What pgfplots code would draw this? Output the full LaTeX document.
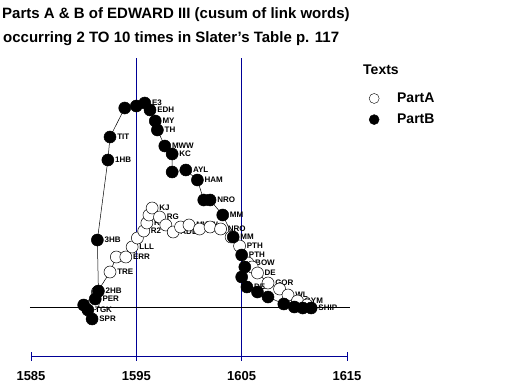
\documentclass[border=0pt]{standalone}
\usepackage{pgfplots}
\pgfplotsset{compat=1.18}
\usepackage{fontspec}
\setmainfont{Liberation Sans}
\definecolor{navyc}{RGB}{0,0,150}
\begin{document}
\begin{tikzpicture}[x=1pt,y=1pt]
\path[use as bounding box] (0,0) rectangle (512,384);
\begin{axis}[
  at={(31pt,28pt)}, anchor=south west,
  scale only axis, width=316pt, height=298pt,
  xmin=1585, xmax=1615, ymin=-49, ymax=249,
  clip=false,
  axis y line=none,
  axis x line*=bottom,
  x axis line style={draw=navyc, line width=0.8pt, -},
  xtick={1585,1595,1605,1615},
  xtick align=center,
  major tick length=9pt,
  tick style={draw=navyc, line width=0.8pt},
  /pgf/number format/assume math mode=true,
  /pgf/number format/1000 sep={},
  xticklabel style={font=\bfseries\fontsize{13}{15}\selectfont, yshift=-7pt},
  point meta=explicit symbolic,
  nodes near coords,
  every node near coord/.append style={anchor=west, xshift=7pt, inner sep=0pt,
     font=\bfseries\fontsize{8}{9}\selectfont},
  legend style={at={(rel axis cs:1.06,0.897)}, anchor=north west, draw=none, fill=none,
     font=\bfseries\fontsize{14}{16}\selectfont, row sep=6pt,
     /tikz/every odd column/.append style={column sep=16pt}},
  legend cell align=left,
]
\draw[navyc, line width=0.8pt] (axis cs:1595,-49) -- (axis cs:1595,249);
\draw[navyc, line width=0.8pt] (axis cs:1605,-49) -- (axis cs:1605,249);
\draw[black, line width=0.6pt] (axis cs:1584.9,0) -- (axis cs:1615.3,0);
% Part A (open)
\addplot[forget plot, black, line width=0.5pt, mark=*, mark size=6pt,
  mark options={draw=black, fill=white, line width=0.5pt}]
  table[x=x, y=y, meta=lab] {
x y lab
1590.9 3 {}
1591.3 15 {}
1592.5 35 TRE
1593.1 50 {}
1594.0 50 ERR
1594.6 60 LLL
1595.1 69 {}
1595.7 76 R2
1596.0 84 RC
1596.2 92 {}
1596.5 99 KJ
1597.2 90 RG
1597.8 82 {}
1598.5 75 ADD
1599.2 80 {}
1600.0 82 MWW
1601.0 78 {}
1602.0 80 {}
1603.0 78 NRO
1604.0 70 {}
1604.8 61 PTH
1605.6 44 BOW
1606.0 40 {}
1606.5 34 DE
1607.5 24 GOR
1608.6 18 {}
1609.4 12 WL
1610.3 6 GYM
1611.2 2 {}
};
% Part B (filled)
\addplot[forget plot, black, line width=0.5pt, mark=*, mark size=6pt,
  mark options={draw=black, fill=black}]
  table[x=x, y=y, meta=lab] {
x y lab
1590.8 -12 SPR
1590.4 -3 TGK
1590.0 2 {}
1591.1 8 PER
1591.4 16 2HB
1591.3 67 3HB
1592.3 147 1HB
1592.5 170 TIT
1593.9 199 {}
1595.0 201 {}
1595.8 204 E3
1596.3 197 EDH
1596.8 186 MY
1597.0 177 TH
1597.7 161 MWW
1598.4 153 KC
1598.4 135 {}
1599.7 137 AYL
1600.8 127 HAM
1601.4 107 {}
1602.0 107 NRO
1603.2 92 MM
1604.2 70 MM
1605.0 52 PTH
1605.3 40 {}
1605.0 30 {}
1605.5 20 DE
1606.5 15 {}
1607.5 10 {}
1609.0 3 {}
1610.0 0 {}
1610.8 -1 {}
1611.6 -1 SHIP
};
\addlegendimage{only marks, mark=*, mark size=5pt, mark options={draw=black, fill=white}}
\addlegendentry{PartA}
\addlegendimage{only marks, mark=*, mark size=5pt, mark options={draw=black, fill=black}}
\addlegendentry{PartB}
\end{axis}
\node[anchor=west, inner sep=0pt, font=\bfseries\fontsize{15}{17}\selectfont] at (2,369) {Parts A \& B of EDWARD III (cusum of link words)};
\node[anchor=west, inner sep=0pt, font=\bfseries\fontsize{15}{17}\selectfont] at (3,345) {occurring 2 TO 10 times in Slater's Table p. 117};
\node[anchor=west, inner sep=0pt, font=\bfseries\fontsize{14}{16}\selectfont] at (363,314) {Texts};
\end{tikzpicture}
\end{document}
